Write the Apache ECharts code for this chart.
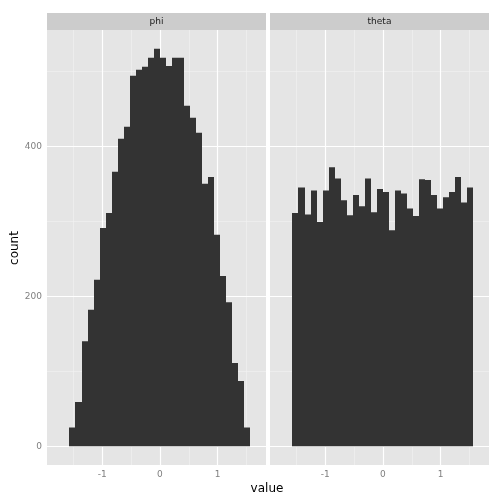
<!DOCTYPE html>
<html>
<head>
<meta charset="utf-8">
<script src="https://cdn.jsdelivr.net/npm/echarts@6/dist/echarts.min.js"></script>
<style>html,body{margin:0;padding:0;background:#fff}#main{width:504px;height:504px}</style>
</head>
<body>
<div id="main"></div>
<script>
// histogram bins: 30 bins over [-pi/2, pi/2]
var binStart = -Math.PI / 2;
var binWidth = Math.PI / 30;
var panels = ['phi', 'theta'];
var phiCounts = [25, 59, 140, 182, 222, 291, 311, 366, 410, 426, 494, 502, 506, 518, 530,
  518, 507, 518, 518, 454, 438, 418, 350, 359, 282, 227, 192, 111, 87, 25];
var thetaCounts = [311, 345, 309, 341, 299, 341, 372, 357, 328, 308, 335, 320, 357, 312, 343,
  339, 288, 341, 337, 317, 307, 356, 355, 335, 317, 332, 339, 359, 325, 345];
var xMajor = [-1, 0, 1];
var xMinor = [-1.5, -0.5, 0.5, 1.5];
var yMajor = [0, 200, 400];
var yMinor = [100, 300, 500];

var myChart = echarts.init(document.getElementById('main'));

function toData(counts) {
  return counts.map(function (c, i) {
    return [binStart + i * binWidth, binStart + (i + 1) * binWidth, c];
  });
}

function gridLines() {
  var d = [];
  var minor = { color: '#f2f2f2', width: 0.6, type: 'solid' };
  var major = { color: '#ffffff', width: 1.2, type: 'solid' };
  xMinor.forEach(function (v) { d.push({ xAxis: v, lineStyle: minor }); });
  yMinor.forEach(function (v) { d.push({ yAxis: v, lineStyle: minor }); });
  xMajor.forEach(function (v) { d.push({ xAxis: v, lineStyle: major }); });
  yMajor.forEach(function (v) { d.push({ yAxis: v, lineStyle: major }); });
  return d;
}

var grids = [], xAxes = [], yAxes = [], series = [];
var lefts = [47, 270];
[phiCounts, thetaCounts].forEach(function (counts, k) {
  grids.push({ left: lefts[k], width: 219, top: 30, height: 435, show: true,
    backgroundColor: '#e5e5e5', borderWidth: 0 });
  xAxes.push({ type: 'value', gridIndex: k, min: -1.96, max: 1.84,
    splitLine: { show: false }, axisLine: { show: false },
    axisTick: { customValues: xMajor, length: 4, lineStyle: { color: '#7f7f7f' } },
    axisLabel: { customValues: xMajor, color: '#7f7f7f', fontSize: 9, margin: 5,
      fontFamily: 'DejaVu Sans' } });
  yAxes.push({ type: 'value', gridIndex: k, min: -25, max: 555,
    splitLine: { show: false }, axisLine: { show: false },
    axisTick: { show: k === 0, customValues: yMajor, length: 4, lineStyle: { color: '#7f7f7f' } },
    axisLabel: { show: k === 0, customValues: yMajor, color: '#7f7f7f', fontSize: 9, margin: 5,
      fontFamily: 'DejaVu Sans' } });
  // background grid lines
  series.push({
    type: 'line', xAxisIndex: k, yAxisIndex: k, data: [], z: 1,
    markLine: { silent: true, symbol: 'none', animation: false, label: { show: false }, data: gridLines() }
  });
  series.push({
    type: 'custom', xAxisIndex: k, yAxisIndex: k, data: toData(counts), z: 5,
    renderItem: function (params, api) {
      var p0 = api.coord([api.value(0), 0]);
      var p1 = api.coord([api.value(1), api.value(2)]);
      var x0 = Math.round(p0[0]), x1 = Math.round(p1[0]);
      return { type: 'rect', shape: { x: x0, y: p1[1], width: x1 - x0, height: p0[1] - p1[1] },
        style: { fill: '#333333' } };
    }
  });
});

var graphic = [];
panels.forEach(function (name, k) {
  graphic.push({ type: 'rect', shape: { x: lefts[k], y: 13, width: 219, height: 17 },
    style: { fill: '#cccccc' } });
  graphic.push({ type: 'text', x: lefts[k] + 109.5, y: 21.5,
    style: { text: name, fill: '#1a1a1a', font: '9px DejaVu Sans', align: 'center', verticalAlign: 'middle' } });
});
graphic.push({ type: 'text', x: 267, y: 489,
  style: { text: 'value', fill: '#000', font: '12px DejaVu Sans', align: 'center', verticalAlign: 'middle' } });
graphic.push({ type: 'text', x: 15, y: 248, rotation: Math.PI / 2,
  style: { text: 'count', fill: '#000', font: '12px DejaVu Sans', align: 'center', verticalAlign: 'middle' } });

myChart.setOption({
  animation: false,
  grid: grids,
  xAxis: xAxes,
  yAxis: yAxes,
  series: series,
  graphic: graphic
});
</script>
</body>
</html>
